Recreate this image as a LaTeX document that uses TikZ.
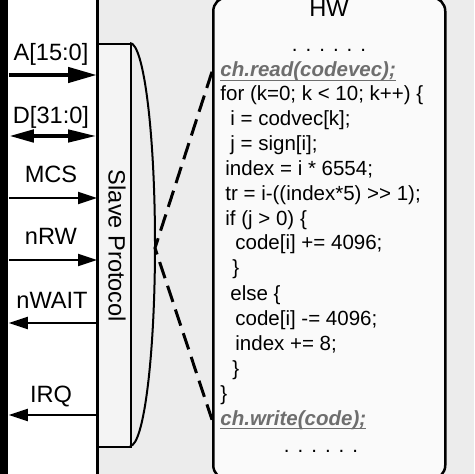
\documentclass[tikz,border=0pt]{standalone}
\usepackage{fontspec}
\setmainfont{Liberation Sans}
\usepackage{xcolor}
\usepackage{tikz}
\usetikzlibrary{positioning, arrows.meta, calc}

\definecolor{bggray}{HTML}{ECECEC}
\definecolor{slavegray}{HTML}{F4F4F4}
\definecolor{hwgray}{HTML}{FAFAFA}
\definecolor{changray}{HTML}{6E6E6E}

\newcommand{\chanline}[1]{\setbox0\hbox{#1}\rlap{\rule[-2.2pt]{\wd0}{0.9pt}}\box0}
\newcommand{\hwdots}{.\hskip4pt.\hskip4pt.\hskip4pt.\hskip4pt.\hskip4pt.}

\tikzset{
  sig/.style={font=\fontsize{11.8}{14}\selectfont, anchor=base, inner sep=0pt},
  code/.style={font=\fontsize{10.25}{12}\selectfont, anchor=base west, inner sep=0pt},
  chan/.style={code, text=changray, font=\fontsize{10.25}{12}\selectfont\bfseries\itshape},
  busarrow/.style={line width=2.25pt, -{Triangle[length=14.5pt, width=7.5pt]}},
  busboth/.style={line width=2.25pt, {Triangle[length=12.5pt, width=6pt]}-{Triangle[length=14.5pt, width=6pt]}},
  wirearrow/.style={line width=1pt, -{Triangle[length=9.5pt, width=6pt]}},
  link/.style={line width=1.5pt, dash pattern=on 8.5pt off 4pt}
}

\begin{document}
\begin{tikzpicture}[x=0.5pt, y=-0.5pt]
      \useasboundingbox (0,0) rectangle (474,474);

      % Background
      \fill[bggray] (97,0) rectangle (474,474);
      \node[fill=black, inner sep=0pt, minimum width=4pt, minimum height=237pt, anchor=north west] (bar) at (0,0) {};

      % Slave protocol block
      \node[draw, fill=slavegray, line width=1pt, inner sep=0pt, minimum width=16.5pt, minimum height=201.5pt, anchor=north west] (slave) at (97,43) {};
      \draw[line width=1pt] (130,446) arc[start angle=90, end angle=-90, x radius=25, y radius=201.5];
      \draw[line width=1.5pt] (97,0) -- (97,474);
      \node[font=\fontsize{11.8}{14}\selectfont, rotate=-90, inner sep=0pt] (proto) at (117,246) {Slave Protocol};

      % HW block
      \node[draw, fill=hwgray, line width=1.25pt, rounded corners=7pt, inner sep=0pt, minimum width=116pt, minimum height=241pt, anchor=north west] (hw) at (212,-4) {};
      \node[sig] (hwlabel) at (329,17) {HW};

      % Bus signals
      \node[sig] (sigA) at (51,61) {A[15:0]};
      \node[sig] (sigD) at (51,124) {D[31:0]};
      \node[sig] (sigMCS) at (51,183) {MCS};
      \node[sig] (sigRW) at (51,245) {nRW};
      \node[sig] (sigWAIT) at (52,308) {nWAIT};
      \node[sig] (sigIRQ) at (51,402) {IRQ};

      \draw[busarrow] (bar.east |- 0,75) -- (slave.west |- 0,75);
      \draw[busboth] (bar.east |- 0,136) -- (slave.west |- 0,136);
      \draw[wirearrow] (bar.east |- 0,198) -- (slave.west |- 0,198);
      \draw[wirearrow] (bar.east |- 0,260) -- (slave.west |- 0,260);
      \draw[wirearrow] (slave.west |- 0,323) -- (bar.east |- 0,323);
      \draw[wirearrow] (slave.west |- 0,415) -- (bar.east |- 0,415);

      % Code inside HW
      \node[code, anchor=base] (dtop) at (329,52) {\hwdots};
      \node[chan] (rd) at (220,77) {\chanline{ch.read(codevec);}};
      \node[code] (l1) at (220,101) {for (k=0; k < 10; k++) \{};
      \node[code] (l2) at (230,126) {i = codvec[k];};
      \node[code] (l3) at (230,151) {j = sign[i];};
      \node[code] (l4) at (225,176) {index = i * 6554;};
      \node[code] (l5) at (225,200.5) {tr = i-((index*5) >{}> 1);};
      \node[code] (l6) at (225,225.5) {if (j > 0) \{};
      \node[code] (l7) at (235,250) {code[i] += 4096;};
      \node[code] (l8) at (232,275) {\}};
      \node[code] (l9) at (230,300) {else \{};
      \node[code] (l10) at (235,325) {code[i] -= 4096;};
      \node[code] (l11) at (235,350) {index += 8;};
      \node[code] (l12) at (232,375) {\}};
      \node[code] (l13) at (220,400) {\}};
      \node[chan] (wr) at (220,425) {\chanline{ch.write(code);}};
      \node[code, anchor=base] (dbot) at (321,452) {\hwdots};

      % Channel links
      \coordinate (cone) at (155,248);
      \draw[link] (hw.west |- rd) -- (cone) -- (hw.west |- wr);
    \end{tikzpicture}
\end{document}
